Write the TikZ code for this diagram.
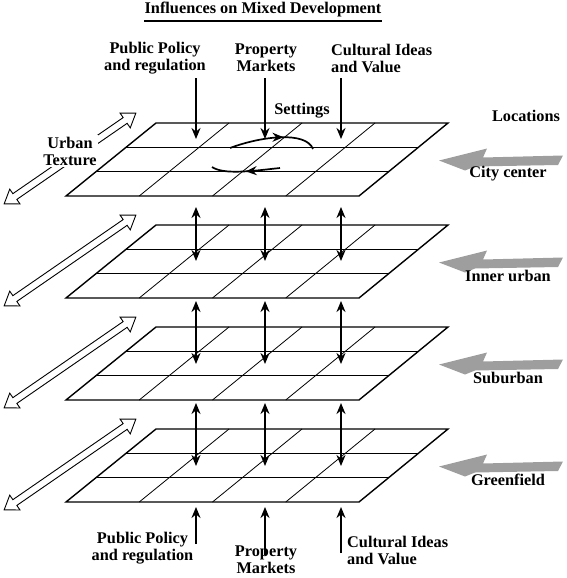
\documentclass[tikz,border=0pt]{standalone}
\usepackage{fontspec}
\setmainfont{Liberation Serif}
\usetikzlibrary{arrows.meta,decorations.markings,calc}
\begin{document}
\begin{tikzpicture}[x=1pt,y=-1pt,
  lbl/.style={font=\bfseries\fontsize{16.3}{17}\selectfont, inner sep=0pt},
  outer/.style={line width=1.4pt, line join=miter},
  inner/.style={line width=0.8pt},
  infl/.style={line width=1.9pt, -{Stealth[length=11pt,width=9pt]}},
  both/.style={line width=1.9pt, {Stealth[length=11pt,width=9pt]}-{Stealth[length=11pt,width=9pt]}},
  texture/.style={line width=0.9pt, fill=white, line join=miter},
  locgray/.style={fill=black!38},
  rotarc/.style={line width=1.7pt, postaction={decorate}},
]
\useasboundingbox (0,0) rectangle (567,578);

% title
\node[lbl] (title) at (263,9) {Influences on Mixed Development};
\coordinate (ul) at (0,21);
\draw[line width=1.6pt] (title.west |- ul) -- (title.east |- ul);

% hollow "urban texture" arrows
\foreach \k in {0,1,2,3}{
  \begin{scope}[shift={(70,158.5+102*\k)}, rotate=34.6]
    \draw[texture] (-80,0) -- (-67,9) -- (-67,3.5) -- (67,3.5) -- (67,9) -- (80,0)
      -- (67,-9) -- (67,-3.5) -- (-67,-3.5) -- (-67,-9) -- cycle;
  \end{scope}
}

% plates
\foreach \k in {0,1,2,3}{
  \pgfmathsetmacro\t{123+102*\k}
  \pgfmathsetmacro\b{196+102*\k}
  \coordinate (TL\k) at (156,\t);
  \coordinate (TR\k) at (448,\t);
  \coordinate (BR\k) at (359,\b);
  \coordinate (BL\k) at (66,\b);
  \fill[white] (TL\k) -- (TR\k) -- (BR\k) -- (BL\k) -- cycle;
  \foreach \f in {1,2}{
    \draw[inner] ($(TL\k)!\f/3!(BL\k)$) -- ($(TR\k)!\f/3!(BR\k)$);
  }
  \foreach \f in {1,2,3}{
    \draw[inner] ($(TL\k)!\f/4!(TR\k)$) -- ($(BL\k)!\f/4!(BR\k)$);
  }
  \draw[outer] (TL\k) -- (TR\k) -- (BR\k) -- (BL\k) -- cycle;
}

% Urban Texture label
\node[lbl, align=center, fill=white, inner sep=1.5pt] (urban) at (70,151) {Urban\\Texture};

% top influence labels
\node[lbl, align=center] (pp1) at (155,58) {Public Policy\\and regulation};
\node[lbl, align=center] (pm1) at (266,58) {Property\\Markets};
\node[lbl, align=left, anchor=west] (cv1) at (331,58) {Cultural Ideas\\and Value};

% top arrows
\coordinate (ta1) at (196,78); \coordinate (th1) at (196,139);
\coordinate (ta2) at (265,78); \coordinate (th2) at (265,139);
\coordinate (ta3) at (341,78); \coordinate (th3) at (341,139);
\draw[infl] (ta1) -- (th1);
\draw[infl] (ta2) -- (th2);
\draw[infl] (ta3) -- (th3);

% settings
\node[lbl] (settings) at (302,111) {Settings};
\coordinate (s1) at (230,148); \coordinate (s2) at (313,149);
\coordinate (s3) at (280,168); \coordinate (s4) at (212,167);
\draw[rotarc, decoration={markings, mark=at position 0.62 with {\arrow{Stealth[length=11pt,width=9pt]}}}]
  (s1) .. controls (262,136) and (306,131) .. (s2);
\draw[rotarc, decoration={markings, mark=at position 0.5 with {\arrow{Stealth[length=11pt,width=9pt]}}}]
  (s3) .. controls (252,171) and (224,175) .. (s4);

% double arrows between plates
\foreach \k/\ya/\yb in {0/207/261, 1/301/364, 2/403/466}{
  \foreach \x [count=\i] in {196,265,341}{
    \coordinate (da\k\i) at (\x,\ya);
    \coordinate (db\k\i) at (\x,\yb);
    \draw[both] (da\k\i) -- (db\k\i);
  }
}

% bottom arrows
\coordinate (ba1) at (196,544); \coordinate (bh1) at (196,507);
\coordinate (ba2) at (265,555); \coordinate (bh2) at (265,507);
\coordinate (ba3) at (341,553); \coordinate (bh3) at (341,507);
\draw[infl] (ba1) -- (bh1);
\draw[infl] (ba2) -- (bh2);
\draw[infl] (ba3) -- (bh3);

% bottom labels
\node[lbl, align=center] (pp2) at (142.5,548) {Public Policy\\and regulation};
\node[lbl, align=center] (pm2) at (266,559.5) {Property\\Markets};
\node[lbl, align=left, anchor=west] (cv2) at (347,550) {Cultural Ideas\\and Value};

% locations
\node[lbl] (loc) at (526,116) {Locations};
\foreach \k/\name in {0/City center, 1/Inner urban, 2/Suburban, 3/Greenfield}{
  \begin{scope}[shift={(439,160.5+102*\k)}]
    \fill[locgray] (0,0) -- (48,-12) -- (44,-3) -- (124,-5) -- (119,4.5) -- (36,6) -- (26,10) -- cycle;
  \end{scope}
  \node[lbl] (l\k) at (508,173.5+102*\k) {\name};
}
\end{tikzpicture}
\end{document}
